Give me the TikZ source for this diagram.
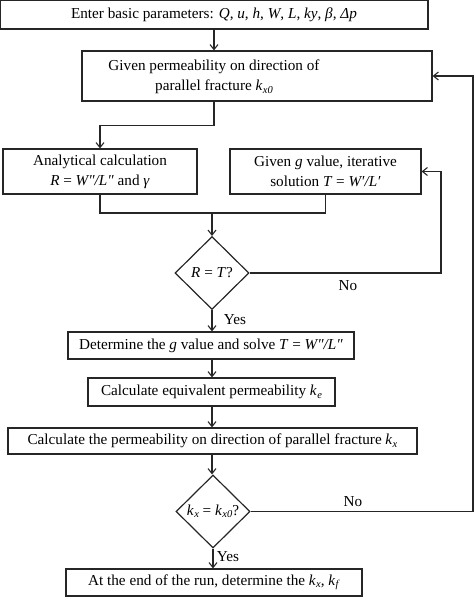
\documentclass[tikz,border=0pt]{standalone}
\usepackage{fontspec}
\setmainfont{Liberation Serif}
\usetikzlibrary{arrows.meta,shapes.geometric}
\newcommand\ksub[1]{\textit{k}\kern0.3pt\raisebox{-0.35ex}{\fontsize{10.5}{10.5}\selectfont\textit{#1}}}
\tikzset{
  box/.style={draw=black!85, line width=1.2pt, rectangle, inner sep=0pt, align=center},
  dec/.style={draw=black!85, line width=1.2pt, diamond, inner sep=0pt, minimum width=74pt, minimum height=73pt},
  txt/.style={inner sep=0pt, align=center},
  line/.style={draw=black!85, line width=1.1pt},
  arr/.style={line, -{Straight Barb[length=5pt,width=8pt]}},
  lbl/.style={inner sep=0pt}
}
\begin{document}
\begin{tikzpicture}[x=1pt,y=-1pt,font=\fontsize{15.2}{20}\selectfont]
\useasboundingbox (0,0) rectangle (474,597);
\clip (0,0) rectangle (474,597);
% boxes
\node[box, minimum width=428, minimum height=29] (b1) at (214,14.5)
  {Enter basic parameters: \textit{Q}, \textit{u}, \textit{h}, \textit{W}, \textit{L}, \textit{ky}, \textit{β}, \textit{Δp}};
\node[box, minimum width=350, minimum height=50] (b2) at (257,76) {};
\node[txt] (b2t) at (214,77) {Given permeability on direction of\\parallel fracture \ksub{x0}};
\node[box, minimum width=194, minimum height=45] (b3) at (100,171.5)
  {Analytical calculation\\\textit{R} = \textit{W″/L″} and \textit{γ}};
\node[box, minimum width=191, minimum height=45] (b4) at (325.5,171.5)
  {Given \textit{g} value, iterative\\solution \textit{T} = \textit{W′/L′}};
\node[dec] (d1) at (212,273) {};
\node[txt] (d1t) at (212,273) {\textit{R} = \textit{T}?};
\node[box, minimum width=286, minimum height=27] (b5) at (211,345.5)
  {Determine the \textit{g} value and solve \textit{T} = \textit{W″/L″}};
\node[box, minimum width=247, minimum height=28] (b6) at (211.5,392)
  {Calculate equivalent permeability \ksub{e}};
\node[box, minimum width=409, minimum height=26] (b7) at (212.5,441)
  {Calculate the permeability on direction of parallel fracture \ksub{x}};
\node[dec] (d2) at (213,511.5) {};
\node[txt] (d2t) at (213,511) {\ksub{x} = \ksub{x0}?};
\node[box, minimum width=296, minimum height=27] (b8) at (214,582.5)
  {At the end of the run, determine the \ksub{x}, \ksub{f}};
% spine coordinates
\coordinate (s1) at (214,0);
\coordinate (s2) at (212,0);
\coordinate (m) at (212,213);
\coordinate (r1) at (441,0);
\coordinate (r2) at (473,0);
% connectors
\draw[arr] (b1.south -| s1) -- (b2.north -| s1);
\draw[arr] (b2.south -| s1) -- ++(0,24) -| (b3.north);
\draw[line] (b3.south) |- (m) -| (b4.south);
\draw[arr] (m) -- (d1.north);
\draw[arr] (d1.south) -- (b5.north -| d1.south);
\draw[arr] (d1.east) -- (d1.east -| r1) |- (b4.east);
\draw[arr] (b5.south -| s2) -- (b6.north -| s2);
\draw[arr] (b6.south -| s2) -- (b7.north -| s2);
\draw[arr] (b7.south -| s2) -- (d2.north -| s2);
\draw[arr] (d2.east) -- (d2.east -| r2) |- (b2.east);
\draw[arr] (d2.south) -- (b8.north -| d2.south);
% labels
\node[lbl] (no1) at (348,286) {No};
\node[lbl] (yes1) at (235,320) {Yes};
\node[lbl] (no2) at (353,502) {No};
\node[lbl] (yes2) at (228,557) {Yes};
\end{tikzpicture}
\end{document}
